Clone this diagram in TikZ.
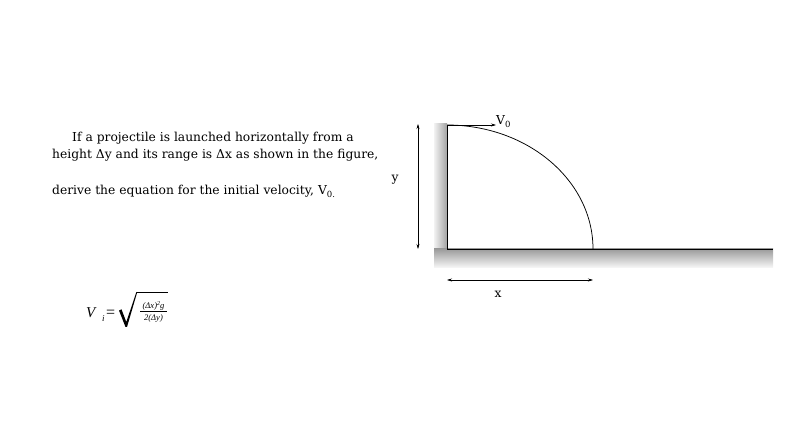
\documentclass[tikz,border=0pt]{standalone}
\usepackage{fontspec}
\setmainfont{DejaVu Serif}
\newfontfamily\tms{Liberation Serif}
\usetikzlibrary{arrows.meta}
\begin{document}
\begin{tikzpicture}[x=1pt,y=-1pt,
  txt/.style={inner sep=0pt,anchor=base west,font=\fontsize{12.3}{14}\selectfont},
  lbl/.style={inner sep=0pt,font=\fontsize{12.3}{14}\selectfont},
  arr/.style={-{Stealth[length=5pt,width=3pt]}},
  darr/.style={{Stealth[length=5pt,width=3pt]}-{Stealth[length=5pt,width=3pt]}}]
\path[use as bounding box] (0,0) rectangle (788,443);
% text
\node[txt] (l1) at (72,142) {If a projectile is launched horizontally from a};
\node[txt] (l2) at (52,159) {height Δy and its range is Δx as shown in the figure,};
\node[txt] (l3) at (52,195) {derive the equation for the initial velocity, V\raisebox{-3pt}{\fontsize{8.5}{9}\selectfont 0.}};
% formula
\node[inner sep=0pt,anchor=base west,font=\tms\itshape\fontsize{15}{16}\selectfont] (vi) at (86,318) {V};
\node[inner sep=0pt,anchor=base west,font=\tms\itshape\fontsize{9}{10}\selectfont] (vsub) at (102,322) {i};
\node[inner sep=0pt,anchor=base west,font=\tms\fontsize{16}{17}\selectfont] (eq) at (106,318) {=};
\fill (119,310.5) -- (121.5,309.3) -- (126.3,322) -- (136.4,292) -- (137.2,292.3) -- (127,327) -- (125.5,327) -- cycle;
\draw[line width=0.6pt] (136.8,292.2) -- (168,292.2);
\node[inner sep=0pt,anchor=base,font=\tms\itshape\fontsize{8.5}{9}\selectfont] (num) at (153.5,308.5) {(Δx)\raisebox{3pt}{\fontsize{6}{7}\selectfont 2}g};
\draw[line width=0.4pt] (140,311.5) -- (167,311.5);
\node[inner sep=0pt,anchor=base,font=\tms\itshape\fontsize{8.5}{9}\selectfont] (den) at (153.5,320.5) {2(Δy)};
% wall and ground
\shade[left color=gray!10,right color=gray!72] (434,124) rectangle (447,249);
\shade[top color=gray!78,bottom color=gray!5] (434,249) rectangle (773,268);
\coordinate (top) at (447,125);
\coordinate (base) at (447,249);
\coordinate (land) at (593,249);
\coordinate (gend) at (773,249);
\draw[line width=0.8pt] (top) -- (base) -- (gend);
% trajectory
\draw[line width=0.75pt] (top) arc[start angle=270,end angle=360,x radius=146,y radius=124];
% V0 arrow
\coordinate (v0e) at (496,125);
\draw[arr,line width=0.6pt] (top) -- (v0e);
\node[inner sep=0pt,anchor=base west,font=\fontsize{12.3}{14}\selectfont] (v0) at (496,124.5) {V\raisebox{-3pt}{\fontsize{8.5}{9}\selectfont 0}};
% y arrow
\coordinate (ya) at (418,124);
\coordinate (yb) at (418,249);
\draw[darr,line width=0.5pt] (ya) -- (yb);
\node[lbl] (ylab) at (395,180) {y};
% x arrow
\coordinate (xa) at (447,280);
\coordinate (xb) at (593,280);
\draw[darr,line width=0.5pt] (xa) -- (xb);
\node[lbl] (xlab) at (498,294) {x};
\end{tikzpicture}
\end{document}
